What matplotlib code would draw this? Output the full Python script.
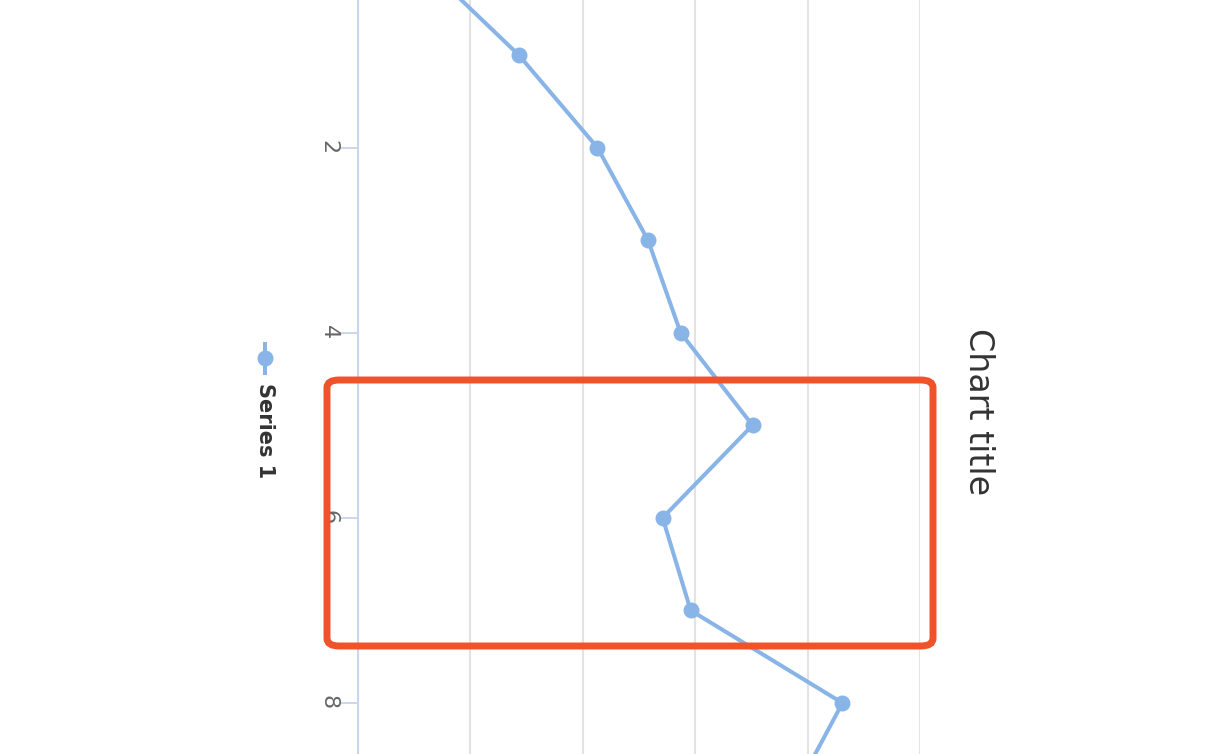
import matplotlib
matplotlib.use("Agg")
import matplotlib.pyplot as plt
from matplotlib.lines import Line2D
from matplotlib.patches import FancyBboxPatch

W, H = 1224, 754

# data (chart is drawn rotated 90 deg clockwise)
categories = [0, 1, 2, 3, 4, 5, 6, 7, 8, 9]
series1 = [0.57, 1.43, 2.13, 2.58, 2.87, 3.51, 2.71, 2.96, 4.31, 3.87]
x_ticks = [2, 4, 6, 8]
grid_vals = [0, 1, 2, 3, 4, 5]
title = "Chart title"
series_name = "Series 1"

line_color = "#88b4e7"
grid_color = "#e3e3e3"
axis_color = "#ccd6eb"


def fx(x):
    return x / W


def fy(y):
    return 1 - y / H


fig = plt.figure(figsize=(W / 100, H / 100), dpi=100)
ax = fig.add_axes([fx(358), 0, (920 - 358) / W, 1])

ax.plot(series1, categories, color=line_color, lw=2.9, marker="o",
        markersize=11.5, markeredgewidth=0, solid_capstyle="round", zorder=3)

ax.set_xticks(grid_vals)
ax.set_yticks(x_ticks)
ax.set_xlim(0, 5)
ax.set_ylim(8.551, 0.406)
ax.xaxis.grid(True, color=grid_color, lw=1.5)
ax.set_axisbelow(True)
ax.tick_params(axis="x", bottom=False, labelbottom=False)
ax.tick_params(axis="y", length=13, width=1.4, color=axis_color,
               labelcolor="#666666", labelsize=16, labelrotation=-90, pad=1)
for s in ["top", "right", "bottom"]:
    ax.spines[s].set_visible(False)
ax.spines["left"].set_color(axis_color)
ax.spines["left"].set_linewidth(1.5)

# title
fig.text(fx(978), fy(412), title, rotation=-90, ha="center", va="center",
         fontsize=24, color="#333333")

# legend
fig.add_artist(Line2D([fx(265), fx(265)], [fy(344), fy(373)], color=line_color,
                      lw=2.9, transform=fig.transFigure))
fig.add_artist(Line2D([fx(265)], [fy(358)], color=line_color, marker="o",
                      markersize=11.5, markeredgewidth=0, transform=fig.transFigure))
fig.text(fx(265), fy(383), series_name, rotation=-90, ha="center", va="top",
         fontsize=15, fontweight="bold", color="#333333")

# highlight box
box = FancyBboxPatch((fx(327), fy(646)), fx(933 - 327), (646 - 380) / H,
                     boxstyle="round,pad=0,rounding_size=0.01",
                     transform=fig.transFigure, fill=False,
                     edgecolor="#f0522a", lw=5, zorder=5)
fig.add_artist(box)

fig.savefig("out.png", dpi=100)
